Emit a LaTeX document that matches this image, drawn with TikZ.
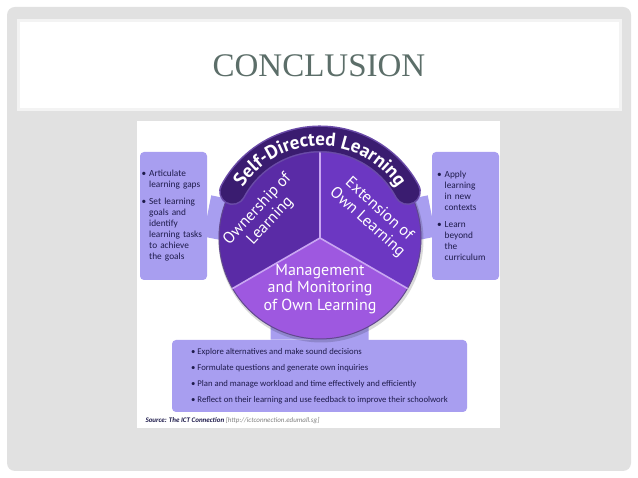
\documentclass[tikz,border=0pt]{standalone}
\usepackage{fontspec}
\setmainfont{Carlito}
\newfontfamily\titlefont{Liberation Serif}
\newfontfamily\wheelfont{PT Sans}
\usetikzlibrary{decorations.text}

\definecolor{slidegray}{HTML}{E1E1E1}
\definecolor{titleborder}{HTML}{F3F3F3}
\definecolor{titlecol}{HTML}{5C6E69}
\definecolor{boxlav}{HTML}{A89EF0}
\definecolor{boxtext}{HTML}{1E1B4B}
\definecolor{owncol}{HTML}{5A2BA6}
\definecolor{extcol}{HTML}{6C37C2}
\definecolor{mancol}{HTML}{9E58E0}
\definecolor{divcol}{HTML}{C9A6F2}
\definecolor{bandcol}{HTML}{3A1C70}
\definecolor{bandedge}{HTML}{6A4BA8}

\begin{document}
\begin{tikzpicture}[x=1pt,y=1pt]

%styles
\tikzset{
    infobox/.style={fill=boxlav, rounded corners=4pt, inner ysep=0pt, align=left, text=boxtext},
    link/.style={draw=boxlav},
    divider/.style={draw=divcol, line width=1.6pt},
    wheellabel/.style={text=white, align=center, font=\wheelfont\fontsize{16}{17.5}\selectfont}
}

\useasboundingbox (0,0) rectangle (638,478);
\fill[white] (0,0) rectangle (638,478);
\fill[slidegray, rounded corners=8pt] (7,7) rectangle (631,471);

%title
\filldraw[fill=white, draw=titleborder, line width=3pt] (18,368) rectangle (620,457);
\node[text=titlecol, font=\titlefont\fontsize{33}{33}\selectfont] (title) at (319,412) {CONCLUSION};

%picture
\fill[white] (137,50) rectangle (500,357);
\node[circle, minimum size=202pt, inner sep=0pt] (hub) at (320,240) {};

\node[infobox, text width=64pt, minimum height=128pt, inner xsep=1.5pt, font=\fontsize{9.3}{11}\selectfont] (leftbox) at (173.5,262) {%
\textbullet\ Articulate\\
\phantom{\textbullet\ }learning gaps\\[6pt]
\textbullet\ Set learning\\
\phantom{\textbullet\ }goals and\\
\phantom{\textbullet\ }identify\\
\phantom{\textbullet\ }learning tasks\\
\phantom{\textbullet\ }to achieve\\
\phantom{\textbullet\ }the goals};

\node[infobox, text width=57pt, minimum height=128pt, inner xsep=5pt, font=\fontsize{9.3}{11}\selectfont] (rightbox) at (465.5,262) {%
\textbullet\ Apply\\
\phantom{\textbullet\ }learning\\
\phantom{\textbullet\ }in new\\
\phantom{\textbullet\ }contexts\\[6pt]
\textbullet\ Learn\\
\phantom{\textbullet\ }beyond\\
\phantom{\textbullet\ }the\\
\phantom{\textbullet\ }curriculum};

\node[infobox, minimum width=295pt, minimum height=72pt, font=\fontsize{8.7}{16}\selectfont] (bottombox) at (319.5,102) {%
\textbullet\ Explore alternatives and make sound decisions\\
\textbullet\ Formulate questions and generate own inquiries\\
\textbullet\ Plan and manage workload and time effectively and efficiently\\
\textbullet\ Reflect on their learning and use feedback to improve their schoolwork};

%links to the wheel
\draw[link, line width=42pt] (leftbox.east) -- (hub.center);
\draw[link, line width=42pt] (rightbox.west) -- (hub.center);
\draw[link, line width=98pt] (bottombox.north) -- (hub.center);

%wheel
\fill[black, opacity=0.15] ([shift={(1,-2)}]hub.center) circle (102.5);
\fill[owncol] (hub.center) -- (hub.90) arc[start angle=90, end angle=210, radius=101] -- cycle;
\fill[extcol] (hub.center) -- (hub.330) arc[start angle=-30, end angle=90, radius=101] -- cycle;
\fill[mancol] (hub.center) -- (hub.210) arc[start angle=210, end angle=330, radius=101] -- cycle;
\draw[bandcol!80, line width=1pt] (hub.center) circle (101);
\draw[divider] (hub.center) -- (hub.90);
\draw[divider] (hub.center) -- (hub.210);
\draw[divider] (hub.center) -- (hub.330);

%band on top
\draw[bandedge, line width=27pt, line cap=round] (hub.center) ++(152:99) arc[start angle=152, end angle=28, radius=99];
\draw[bandcol, line width=24pt, line cap=round] (hub.center) ++(152:99) arc[start angle=152, end angle=28, radius=99];
\path[decorate, decoration={text along path, text align=center,
    text={|\wheelfont\bfseries\fontsize{19}{19}\selectfont\color{white}|Self-Directed Learning}}]
    (hub.center) ++(165:92) arc[start angle=165, end angle=15, radius=92];

\node[wheellabel, rotate=47] (ownlabel) at (264,263) {Ownership of\\Learning};
\node[wheellabel, rotate=-42] (extlabel) at (373,262) {Extension of\\Own Learning};
\node[wheellabel] (manlabel) at (320,189) {Management\\and Monitoring\\of Own Learning};

\node[anchor=base west, font=\fontsize{7}{7}\selectfont, text=boxtext] (source) at (142,55)
    {\textbf{\textit{Source: The ICT Connection}} \textcolor{gray}{\textit{[http://ictconnection.edumall.sg]}}};

\end{tikzpicture}
\end{document}
